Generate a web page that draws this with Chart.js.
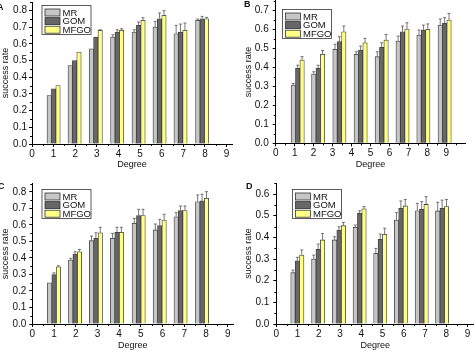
<!DOCTYPE html>
<html>
<head>
<meta charset="utf-8">
<script src="https://cdn.jsdelivr.net/npm/chart.js@4"></script>
<style>
  html, body { margin: 0; padding: 0; background: #fff; overflow: hidden; }
  #page { position: relative; width: 474px; height: 351px; overflow: hidden; }
  canvas { position: absolute; }
  .tag { position: absolute; font: bold 9px "Liberation Sans", Arial, sans-serif; line-height: 10px; color: #111; }
</style>
</head>
<body>
<div id="page">
  <canvas id="chartA" width="237" height="170" style="left:0;top:0"></canvas>
  <canvas id="chartB" width="237" height="170" style="left:237px;top:0"></canvas>
  <canvas id="chartC" width="237" height="181" style="left:0;top:170px"></canvas>
  <canvas id="chartD" width="237" height="181" style="left:237px;top:170px"></canvas>
  <div class="tag" style="left:-3px;top:2px">A</div>
  <div class="tag" style="left:244px;top:-1px">B</div>
  <div class="tag" style="left:-2px;top:181px">C</div>
  <div class="tag" style="left:246px;top:181px">D</div>
</div>
<script>
// series
const seriesNames = ['MR', 'GOM', 'MFGO'];
const seriesFill = ['#c6c6c6', '#676767', '#ffff85'];

// panel A
const aDegree = [1, 1.97, 2.95, 3.94, 4.93, 5.9, 6.87, 7.87];
const aMR   = [0.29, 0.47, 0.57, 0.64, 0.67, 0.70, 0.66, 0.74];
const aGOM  = [0.33, 0.50, 0.64, 0.67, 0.71, 0.75, 0.67, 0.75];
const aMFGO = [0.35, 0.55, 0.68, 0.68, 0.74, 0.77, 0.68, 0.75];
const aMRErr   = [0, 0, 0, 0.014, 0.014, 0.034, 0.05, 0.008];
const aGOMErr  = [0, 0, 0, 0.014, 0.02, 0.034, 0.048, 0.014];
const aMFGOErr = [0, 0, 0.004, 0.01, 0.016, 0.028, 0.044, 0.008];

// panel B
const bDegree = [1.16, 2.24, 3.36, 4.48, 5.59, 6.69, 7.79, 8.91];
const bMR   = [0.306, 0.364, 0.494, 0.467, 0.455, 0.537, 0.569, 0.621];
const bGOM  = [0.394, 0.394, 0.534, 0.49, 0.504, 0.586, 0.595, 0.63];
const bMFGO = [0.437, 0.467, 0.586, 0.528, 0.542, 0.60, 0.599, 0.647];
const bMRErr   = [0.008, 0.012, 0.026, 0.014, 0.026, 0.026, 0.026, 0.032];
const bGOMErr  = [0.016, 0.016, 0.026, 0.021, 0.024, 0.03, 0.026, 0.03];
const bMFGOErr = [0.018, 0.02, 0.03, 0.023, 0.03, 0.033, 0.028, 0.035];

// panel C
const cDegree = [1, 1.97, 2.93, 3.9, 4.9, 5.87, 6.83, 7.82];
const cMR   = [0.25, 0.388, 0.505, 0.519, 0.61, 0.57, 0.65, 0.741];
const cGOM  = [0.30, 0.424, 0.519, 0.556, 0.657, 0.596, 0.687, 0.747];
const cMFGO = [0.347, 0.438, 0.553, 0.556, 0.657, 0.63, 0.687, 0.762];
const cMRErr   = [0, 0.01, 0.028, 0.03, 0.03, 0.036, 0.025, 0.041];
const cGOMErr  = [0.01, 0.014, 0.034, 0.03, 0.038, 0.038, 0.028, 0.039];
const cMFGOErr = [0.006, 0.014, 0.033, 0.03, 0.038, 0.035, 0.028, 0.04];

// panel D
const dDegree = [0.99, 1.97, 2.95, 3.92, 4.89, 5.86, 6.84, 7.8];
const dMR   = [0.237, 0.30, 0.388, 0.446, 0.326, 0.48, 0.523, 0.522];
const dGOM  = [0.292, 0.345, 0.434, 0.511, 0.391, 0.534, 0.529, 0.534];
const dMFGO = [0.318, 0.388, 0.454, 0.532, 0.414, 0.545, 0.552, 0.542];
const dMRErr   = [0.012, 0.018, 0.015, 0.011, 0.023, 0.034, 0.034, 0.04];
const dGOMErr  = [0.016, 0.024, 0.015, 0.012, 0.024, 0.034, 0.036, 0.038];
const dMFGOErr = [0.024, 0.03, 0.015, 0.01, 0.028, 0.03, 0.036, 0.033];

const lastXLabel = 9;

Chart.defaults.font.family = '"Liberation Sans", Arial, sans-serif';
Chart.defaults.color = '#111';

// error bars: line up from the bar top with a small cap
const errorBars = {
  id: 'errorBars',
  afterDatasetsDraw(chart) {
    const ctx = chart.ctx, y = chart.scales.y;
    ctx.save();
    ctx.strokeStyle = '#555';
    ctx.lineWidth = 0.8;
    chart.data.datasets.forEach((ds, i) => {
      chart.getDatasetMeta(i).data.forEach((bar, j) => {
        const e = ds.errors[j];
        if (!e) return;
        const top = y.getPixelForValue(ds.data[j].y + e);
        ctx.beginPath();
        ctx.moveTo(bar.x, bar.y);
        ctx.lineTo(bar.x, top);
        ctx.moveTo(bar.x - 1.5, top);
        ctx.lineTo(bar.x + 1.5, top);
        ctx.stroke();
      });
    });
    ctx.restore();
  }
};

// small ticks between the labelled ones
const minorTicks = {
  id: 'minorTicks',
  afterDraw(chart) {
    const {ctx, scales: {x, y}} = chart;
    ctx.save();
    ctx.strokeStyle = '#000';
    ctx.lineWidth = 1;
    ctx.beginPath();
    for (let v = 0.5; v < x.max; v += 1) {
      const px = Math.round(x.getPixelForValue(v)) + 0.5;
      ctx.moveTo(px, y.bottom);
      ctx.lineTo(px, y.bottom + 2);
    }
    for (let v = 0.05; v < y.max; v += 0.1) {
      const py = Math.round(y.getPixelForValue(v)) + 0.5;
      ctx.moveTo(x.left - 2, py);
      ctx.lineTo(x.left, py);
    }
    ctx.stroke();
    ctx.restore();
  }
};

// framed legend inside the plot
const boxLegend = {
  id: 'boxLegend',
  afterDraw(chart, args, opts) {
    const ctx = chart.ctx;
    const x = opts.x, y = opts.y;
    ctx.save();
    ctx.lineWidth = 0.8;
    ctx.strokeStyle = '#333';
    ctx.strokeRect(x + 0.5, y + 0.5, 49, 29);
    ctx.font = '9.5px "Liberation Sans", Arial, sans-serif';
    ctx.textBaseline = 'middle';
    chart.data.datasets.forEach((ds, i) => {
      const ry = y + 4 + i * 8.6;
      ctx.fillStyle = ds.backgroundColor;
      ctx.fillRect(x + 3.5, ry, 15, 7);
      ctx.strokeRect(x + 3.5, ry, 15, 7);
      ctx.fillStyle = '#111';
      ctx.fillText(ds.label, x + 21, ry + 4);
    });
    ctx.restore();
  }
};

function makeChart(id, lay, degree, values, errors) {
  const datasets = seriesNames.map((name, i) => ({
    label: name,
    data: degree.map((d, j) => ({x: d, y: values[i][j]})),
    errors: errors[i],
    backgroundColor: seriesFill[i],
    borderColor: '#3a3a3a',
    borderWidth: 0.8,
    barThickness: 4.4
  }));

  new Chart(document.getElementById(id), {
    type: 'bar',
    data: {datasets},
    plugins: [errorBars, minorTicks, boxLegend],
    options: {
      responsive: false,
      animation: false,
      layout: {padding: {left: 0, top: lay.top, right: lay.right, bottom: 0}},
      plugins: {
        legend: {display: false},
        tooltip: {enabled: false},
        boxLegend: lay.legend
      },
      scales: {
        x: {
          type: 'linear', min: 0, max: lay.xMax, offset: false, z: 1,
          grid: {offset: false, drawOnChartArea: false, tickLength: 3, color: '#000'},
          border: {color: '#000', width: 1},
          ticks: {stepSize: 1, includeBounds: false, padding: 1, maxRotation: 0, autoSkip: false, font: {size: 10}, callback: v => String(v)},
          afterBuildTicks: s => { s.ticks = s.ticks.filter(t => Number.isInteger(t.value) && t.value <= lastXLabel); },
          afterFit: s => { s.height = lay.xHeight; s.paddingLeft = 0; s.paddingRight = 0; },
          title: {display: true, text: 'Degree', font: {size: 9}, padding: 0}
        },
        y: {
          min: 0, max: lay.yMax, z: 1,
          grid: {drawOnChartArea: false, tickLength: 3, color: '#000'},
          border: {color: '#000', width: 1},
          ticks: {stepSize: 0.1, includeBounds: false, autoSkip: false, padding: lay.yPad, font: {size: 10}, callback: v => v.toFixed(1)},
          afterBuildTicks: s => { s.ticks = s.ticks.filter(t => Math.abs(t.value * 10 - Math.round(t.value * 10)) < 1e-6); },
          afterFit: s => { s.width = lay.yWidth; s.paddingTop = 0; s.paddingBottom = 0; },
          title: {display: true, text: 'success rate', font: {size: 9}, padding: {top: lay.titlePad, bottom: 0}}
        }
      }
    }
  });
}

makeChart('chartA',
  {top: 2, right: 5, xHeight: 26, yWidth: 32, xMax: 9.25, yMax: 0.85, yPad: 2, titlePad: 0, legend: {x: 41.5, y: 5}},
  aDegree, [aMR, aGOM, aMFGO], [aMRErr, aGOMErr, aMFGOErr]);

makeChart('chartB',
  {top: 0.5, right: 8.7, xHeight: 26.7, yWidth: 38.7, xMax: 10, yMax: 0.75, yPad: 4, titlePad: 6.6, legend: {x: 45, y: 9}},
  bDegree, [bMR, bGOM, bMFGO], [bMRErr, bGOMErr, bMFGOErr]);

makeChart('chartC',
  {top: 13.75, right: 3.9, xHeight: 27, yWidth: 32.3, xMax: 9.25, yMax: 0.85, yPad: 3, titlePad: 0, legend: {x: 41.5, y: 19}},
  cDegree, [cMR, cGOM, cMFGO], [cMRErr, cGOMErr, cMFGOErr]);

makeChart('chartD',
  {top: 13.2, right: 0, xHeight: 27, yWidth: 39.3, xMax: 9.3, yMax: 0.65, yPad: 4, titlePad: 6.6, legend: {x: 55, y: 19}},
  dDegree, [dMR, dGOM, dMFGO], [dMRErr, dGOMErr, dMFGOErr]);
</script>
</body>
</html>
